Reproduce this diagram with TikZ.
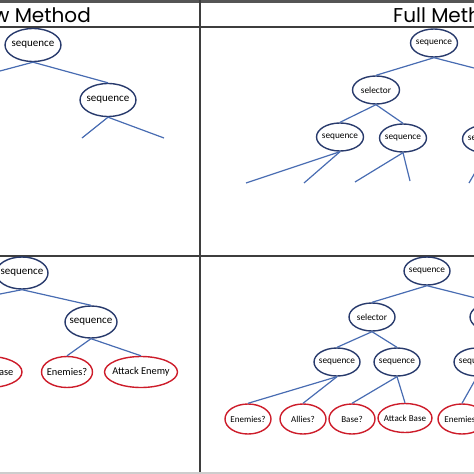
\documentclass[tikz,border=0pt]{standalone}
\usepackage{fontspec}
\setmainfont{Carlito}
\newfontfamily\titlefont{Poppins}
\usepackage{tikz}
\usetikzlibrary{shapes.geometric}

\definecolor{nodeblue}{RGB}{40,58,108}
\definecolor{lineblue}{RGB}{72,108,178}
\definecolor{leafred}{RGB}{205,28,42}
\definecolor{framegray}{RGB}{62,62,62}
\definecolor{topgray}{RGB}{85,85,85}
\definecolor{botgray}{RGB}{205,205,205}

\tikzstyle{frame} = [framegray, line width=1.2pt]
\tikzstyle{edge} = [lineblue, line width=1.2pt]
\tikzstyle{title} = [inner sep=0pt, font=\titlefont\fontsize{20}{24}\selectfont]
\tikzstyle{treenode} = [ellipse, line width=1.4pt, inner xsep=-3pt, inner ysep=0pt]
\tikzstyle{seqbig} = [treenode, draw=nodeblue, minimum width=56pt, minimum height=33pt, font=\fontsize{11}{13}\selectfont]
\tikzstyle{seqsmall} = [treenode, draw=nodeblue, minimum width=47pt, minimum height=28pt, font=\fontsize{9.3}{11}\selectfont]
\tikzstyle{leafbig} = [treenode, draw=leafred, minimum width=51pt, minimum height=31pt, font=\fontsize{10.4}{12}\selectfont]
\tikzstyle{leafsmall} = [treenode, draw=leafred, minimum width=46pt, minimum height=30pt, font=\fontsize{9}{11}\selectfont]

\begin{document}
\begin{tikzpicture}[x=1pt,y=-1pt]
    \useasboundingbox (0,0) rectangle (474,474);
    \clip (0,0) rectangle (474,474);

    % Frame
    \fill[topgray] (0,0) rectangle (474,2.5);
    \fill[botgray] (0,472) rectangle (474,474);
    \draw[frame] (0,27) -- (474,27);
    \draw[frame] (0,256) -- (474,256);
    \draw[frame] (200,0) -- (200,472);

    \node[title, anchor=base east] (newtitle) at (91,22) {New Method};
    \node[title, anchor=base west] (fulltitle) at (393,22) {Full Method};

    % New method, top
    \node[seqbig] (tlroot) at (33,45) {sequence};
    \node[seqbig] (tlseq) at (108,100) {sequence};
    \coordinate (tlout) at (0,71);
    \coordinate (tlleafa) at (82,138);
    \coordinate (tlleafb) at (164,138);

    % Full method, top
    \node[seqsmall] (trroot) at (434,43) {sequence};
    \node[seqsmall] (trsel) at (376,90) {selector};
    \node[seqsmall] (trseqa) at (340,137) {sequence};
    \node[seqsmall] (trseqb) at (403,138) {sequence};
    \node[seqsmall] (trseqc) at (486,139) {sequence};
    \coordinate (trout) at (474,68);
    \coordinate (trleafa) at (246,183);
    \coordinate (trleafb) at (304,183);
    \coordinate (trleafc) at (355,182);
    \coordinate (trleafd) at (410,181);
    \coordinate (trleafe) at (469,183);

    % New method, bottom
    \node[seqbig, minimum width=52pt, minimum height=32pt] (blroot) at (22,273) {sequence};
    \node[seqbig, minimum width=52pt, minimum height=32pt] (blseq) at (91,322) {sequence};
    \node[leafbig, minimum width=66pt] (blbase) at (-11,372) {Attack Base};
    \node[leafbig] (blenemies) at (67,372) {Enemies?};
    \node[leafbig, minimum width=73pt] (blattack) at (141,372) {Attack Enemy};
    \coordinate (blout) at (0,294);

    % Full method, bottom
    \node[seqsmall, minimum width=46pt] (brroot) at (427,271) {sequence};
    \node[seqsmall, minimum width=46pt] (brsel) at (372,317) {selector};
    \node[seqsmall, minimum width=46pt] (brselb) at (493,317) {};
    \node[seqsmall, minimum width=46pt] (brseqa) at (337,362) {sequence};
    \node[seqsmall, minimum width=46pt] (brseqb) at (397,362) {sequence};
    \node[seqsmall, minimum width=46pt] (brseqc) at (477,362) {sequence};
    \node[leafsmall] (brenemies) at (248,419) {Enemies?};
    \node[leafsmall] (brallies) at (303,419) {Allies?};
    \node[leafsmall] (brbase) at (352,419) {Base?};
    \node[leafsmall, minimum width=54pt, minimum height=29pt] (brattack) at (405,418) {Attack Base};
    \node[leafsmall, minimum width=48pt] (brenemiesb) at (462,419) {Enemies?};

    % Edges
    \draw[edge] (tlroot.south) -- (tlout);
    \draw[edge] (tlroot.south) -- (tlseq.north);
    \draw[edge] (tlseq.south) -- (tlleafa);
    \draw[edge] (tlseq.south) -- (tlleafb);

    \draw[edge] (trroot.south) -- (trsel.north);
    \draw[edge] (trroot.south) -- (trout);
    \draw[edge] (trsel.south) -- (trseqa.north);
    \draw[edge] (trsel.south) -- (trseqb.north);
    \draw[edge] (trseqa.south) -- (trleafa);
    \draw[edge] (trseqa.south) -- (trleafb);
    \draw[edge] (trseqb.south) -- (trleafc);
    \draw[edge] (trseqb.south) -- (trleafd);
    \draw[edge] (trseqc.south) -- (trleafe);

    \draw[edge] (blroot.south) -- (blout);
    \draw[edge] (blroot.south) -- (blseq.north);
    \draw[edge] (blseq.south) -- (blenemies.north);
    \draw[edge] (blseq.south) -- (blattack.north);

    \draw[edge] (brroot.south) -- (brsel.north);
    \draw[edge] (brroot.south) -- (brselb.north);
    \draw[edge] (brsel.south) -- (brseqa.north);
    \draw[edge] (brsel.south) -- (brseqb.north);
    \draw[edge] (brseqa.south) -- (brenemies.north);
    \draw[edge] (brseqa.south) -- (brallies.north);
    \draw[edge] (brseqb.south) -- (brbase.north);
    \draw[edge] (brseqb.south) -- (brattack.north);
    \draw[edge] (brseqc.south) -- (brenemiesb.north);
\end{tikzpicture}
\end{document}
